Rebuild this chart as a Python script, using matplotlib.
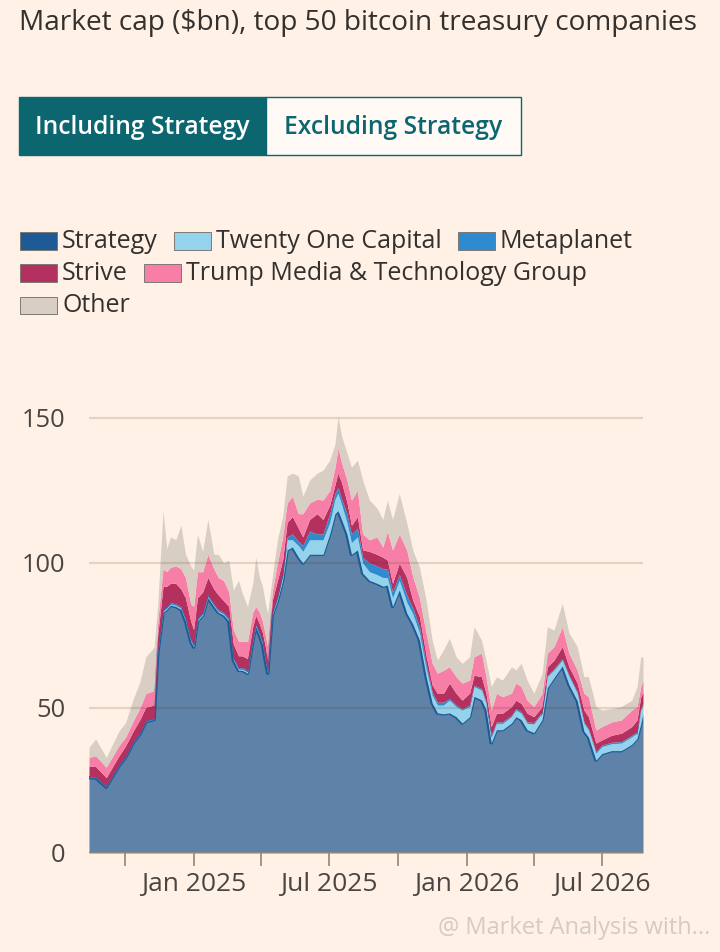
#MARKET CAP OF THE TOP 50 BITCOIN TREASURY COMPANIES
#Stacked area chart, values in $bn read off the FT graphic.

import matplotlib
matplotlib.use("Agg")
import matplotlib.pyplot as plt
from matplotlib.patches import Rectangle
import numpy as np
import pandas as pd

#SETUP THE DATA
dates = [
    "2024-08-14", "2024-08-23", "2024-09-06", "2024-09-23", "2024-10-02", "2024-10-12",
    "2024-10-21", "2024-10-29", "2024-11-09", "2024-11-14", "2024-11-21", "2024-11-26",
    "2024-12-01", "2024-12-08", "2024-12-15", "2024-12-21", "2024-12-28", "2025-01-01",
    "2025-01-06", "2025-01-13", "2025-01-20", "2025-01-28", "2025-02-03", "2025-02-10",
    "2025-02-17", "2025-02-23", "2025-03-02", "2025-03-07", "2025-03-14", "2025-03-21",
    "2025-03-25", "2025-03-30", "2025-04-03", "2025-04-07", "2025-04-10", "2025-04-16",
    "2025-04-23", "2025-04-30", "2025-05-06", "2025-05-13", "2025-05-21", "2025-05-27",
    "2025-06-05", "2025-06-15", "2025-06-23", "2025-07-02", "2025-07-09", "2025-07-13",
    "2025-07-18", "2025-07-25", "2025-07-31", "2025-08-08", "2025-08-15", "2025-08-24",
    "2025-09-03", "2025-09-11", "2025-09-17", "2025-09-24", "2025-10-03", "2025-10-13",
    "2025-10-21", "2025-10-30", "2025-11-08", "2025-11-16", "2025-11-23", "2025-12-01",
    "2025-12-09", "2025-12-18", "2025-12-26", "2026-01-05", "2026-01-11", "2026-01-21",
    "2026-01-27", "2026-02-03", "2026-02-10", "2026-02-18", "2026-03-02", "2026-03-08",
    "2026-03-15", "2026-03-23", "2026-04-01", "2026-04-12", "2026-04-19", "2026-04-28",
    "2026-05-09", "2026-05-18", "2026-05-29", "2026-06-07", "2026-06-13", "2026-06-23",
    "2026-07-01", "2026-07-14", "2026-07-27", "2026-08-10", "2026-08-17", "2026-08-22",
    "2026-08-25",
]

strategy = [
    26.0, 25.9, 22.7, 30.0, 33.0, 38.0, 41.0, 45.3, 46.0, 69.0, 83.0, 84.0,
    85.5, 85.0, 84.0, 80.0, 73.0, 71.0, 80.0, 82.0, 88.0, 85.0, 83.0, 82.0,
    80.0, 66.5, 63.0, 63.0, 62.0, 73.0, 78.0, 75.0, 72.0, 66.0, 62.0, 82.0,
    87.0, 94.0, 104.5, 105.5, 102.0, 100.0, 103.0, 103.0, 103.0, 110.0, 117.0, 118.0,
    114.8, 110.0, 103.0, 104.5, 96.5, 94.0, 93.0, 92.0, 92.4, 85.0, 90.7, 82.7,
    79.0, 73.4, 60.7, 51.7, 48.3, 48.0, 48.3, 47.0, 44.8, 47.0, 54.0, 52.8,
    49.4, 38.0, 42.5, 42.5, 44.8, 47.0, 46.0, 42.5, 41.5, 46.0, 57.0, 60.5,
    64.5, 58.0, 52.5, 42.0, 40.0, 32.0, 34.3, 35.3, 35.3, 37.5, 39.5, 44.5,
    48.0,
]

twenty_one = [
    0.0, 0.0, 0.0, 0.0, 0.0, 0.0, 0.0, 0.0, 0.0, 0.5, 0.5, 0.5,
    0.5, 0.5, 0.5, 0.5, 0.5, 0.5, 0.5, 0.5, 0.5, 0.5, 0.5, 0.5,
    0.5, 0.5, 0.5, 0.5, 0.5, 0.5, 0.5, 0.5, 0.5, 0.5, 0.5, 0.5,
    0.8, 1.5, 3.5, 2.5, 4.0, 4.0, 5.0, 5.0, 5.0, 4.0, 5.0, 6.0,
    5.2, 4.0, 4.0, 4.5, 3.5, 3.0, 3.0, 3.0, 2.6, 3.0, 3.3, 3.8,
    3.5, 2.6, 2.8, 2.8, 2.7, 3.0, 4.4, 3.5, 4.5, 3.5, 3.4, 3.4,
    2.2, 2.1, 2.2, 2.2, 2.2, 2.3, 2.2, 2.2, 3.0, 2.2, 3.8, 2.6,
    2.0, 2.8, 2.6, 2.7, 2.4, 2.4, 2.4, 2.4, 2.6, 2.6, 1.8, 4.8,
    3.0,
]

metaplanet = [
    0.4, 0.4, 0.4, 0.4, 0.4, 0.4, 0.4, 0.4, 0.4, 0.4, 0.4, 0.4,
    0.4, 0.4, 0.4, 0.4, 0.4, 0.4, 0.4, 0.4, 0.4, 0.4, 0.4, 0.4,
    0.4, 0.4, 0.4, 0.4, 0.4, 0.4, 0.4, 0.4, 0.4, 0.4, 0.4, 0.4,
    0.6, 0.8, 1.0, 2.0, 1.5, 2.0, 3.0, 2.0, 2.0, 3.0, 2.0, 2.0,
    2.0, 3.0, 3.0, 3.0, 2.0, 3.0, 3.0, 3.0, 3.0, 2.0, 2.0, 2.5,
    2.0, 2.0, 1.5, 1.0, 1.0, 1.0, 0.5, 0.5, 0.5, 0.5, 0.5, 0.5,
    0.5, 0.5, 0.5, 0.5, 0.5, 0.5, 0.5, 0.5, 0.5, 0.5, 0.5, 0.5,
    0.5, 0.5, 0.5, 0.5, 0.5, 0.5, 0.5, 0.5, 0.5, 0.5, 0.5, 0.5,
    0.5,
]

strive = [
    3.6, 3.5, 2.9, 3.1, 3.6, 3.6, 4.6, 4.6, 4.6, 5.1, 8.1, 7.1,
    6.6, 7.1, 6.1, 7.1, 6.1, 5.1, 7.1, 7.1, 6.1, 5.1, 5.1, 4.1,
    4.1, 4.6, 4.1, 4.1, 4.1, 4.1, 3.1, 3.1, 3.1, 4.1, 3.1, 4.1,
    5.6, 4.7, 5.0, 6.0, 4.5, 3.0, 4.0, 7.0, 5.0, 3.0, 3.0, 5.0,
    5.6, 4.0, 3.0, 4.0, 2.5, 4.0, 4.0, 4.0, 3.0, 3.0, 4.0, 6.0,
    2.7, 3.5, 3.0, 2.5, 3.0, 3.0, 5.4, 4.1, 2.9, 4.1, 3.4, 4.1,
    3.0, 3.0, 3.0, 3.0, 3.0, 2.9, 2.9, 3.0, 2.0, 1.8, 2.9, 2.9,
    4.2, 2.9, 3.0, 4.1, 4.1, 3.0, 1.8, 2.4, 2.9, 3.0, 4.1, 4.1,
    4.0,
]

trump_media = [
    3.0, 3.7, 3.6, 3.5, 3.0, 3.5, 4.0, 4.7, 5.0, 5.0, 6.0, 5.0,
    5.5, 6.0, 7.0, 7.0, 6.0, 8.0, 9.0, 7.0, 8.0, 7.0, 6.0, 7.0,
    5.0, 5.0, 5.0, 5.0, 6.0, 5.0, 3.0, 4.0, 4.0, 4.0, 5.0, 3.0,
    6.0, 8.0, 6.7, 7.0, 5.0, 8.0, 5.7, 5.0, 6.7, 5.0, 6.0, 8.6,
    6.9, 7.6, 8.7, 9.0, 5.5, 4.0, 6.0, 3.5, 10.0, 11.5, 10.0, 9.5,
    8.1, 6.5, 7.8, 7.5, 7.0, 8.0, 5.6, 5.7, 5.9, 4.5, 6.4, 8.1,
    5.7, 5.7, 6.9, 5.7, 4.6, 5.9, 5.8, 4.5, 3.5, 4.6, 4.7, 4.7,
    6.8, 4.7, 4.5, 5.8, 6.9, 4.5, 4.6, 4.6, 4.6, 5.7, 4.6, 3.5,
    4.0,
]

other = [
    3.5, 5.8, 3.4, 5.0, 5.0, 7.5, 9.0, 12.6, 15.0, 6.0, 20.0, 8.0,
    10.5, 9.0, 15.0, 8.0, 13.0, 12.6, 13.0, 7.0, 12.0, 5.0, 8.0, 6.0,
    11.0, 13.7, 21.0, 16.6, 12.0, 10.0, 17.0, 12.0, 12.0, 11.0, 11.7, 5.0,
    8.0, 7.0, 9.3, 8.0, 13.0, 6.0, 7.9, 9.0, 10.3, 10.5, 8.0, 10.9,
    9.1, 9.4, 11.3, 10.5, 18.6, 13.7, 10.0, 9.5, 10.7, 10.5, 14.0, 9.3,
    9.2, 10.6, 11.2, 7.9, 4.5, 7.0, 9.8, 6.9, 6.8, 8.1, 10.3, 4.5,
    5.7, 8.1, 5.7, 5.7, 9.1, 4.5, 8.0, 6.9, 4.6, 6.8, 9.1, 5.7,
    8.1, 7.0, 8.1, 5.7, 6.9, 8.1, 5.7, 4.6, 4.6, 3.4, 6.9, 10.3,
    8.0,
]

series_names = ["Strategy", "Twenty One Capital", "Metaplanet",
                "Strive", "Trump Media & Technology Group", "Other"]
series_colors = ["#1e5a96", "#95d3ec", "#2e8bd0", "#b3305f", "#f77fa7", "#d9cec4"]
legend_rows = [[0, 1, 2], [3, 4], [5]]

tick_dates = ["2024-10-01", "2025-01-01", "2025-04-01", "2025-07-01",
              "2025-10-01", "2026-01-01", "2026-04-01", "2026-07-01"]
tick_labels = ["", "Jan 2025", "", "Jul 2025", "", "Jan 2026", "", "Jul 2026"]
y_ticks = [0, 50, 100, 150]

title = "Market cap ($bn), top 50 bitcoin treasury companies"
buttons = ["Including Strategy", "Excluding Strategy"]
credit = "@ Market Analysis with..."

#STYLE
BG = "#fff1e5"
TEAL = "#0b6670"
TEXT = "#33302e"
plt.rcParams["font.family"] = ["Open Sans", "DejaVu Sans"]

W, H = 720, 952
def fx(x):
    return x / W
def fy(y):
    return 1 - y / H

fig = plt.figure(figsize=(W / 100, H / 100), dpi=100, facecolor=BG)

#MAKING THE CHART
ax = fig.add_axes([fx(89), fy(853), fx(643) - fx(89), fy(400) - fy(853)])
ax.set_facecolor("none")

x = pd.to_datetime(dates)
layers = np.vstack([strategy, twenty_one, metaplanet, strive, trump_media, other])
tops = np.cumsum(layers, axis=0)

ax.fill_between(x, 0, tops[0], color="#5f82a8", lw=0, zorder=1)
ax.plot(x, tops[0], color=series_colors[0], lw=2.5, zorder=2)
for i in range(1, len(layers)):
    ax.fill_between(x, tops[i - 1], tops[i], color=series_colors[i], lw=0, zorder=3)

for v in y_ticks[1:]:
    ax.axhline(v, color="#5a3a1a", alpha=0.16, lw=1.6, zorder=5)
ax.axhline(0, color="#8f857c", lw=1.5, zorder=6)

ax.set_xlim(pd.Timestamp("2024-08-14"), pd.Timestamp("2026-08-25"))
ax.set_ylim(0, 156.2)
for s in ax.spines.values():
    s.set_visible(False)

ax.set_yticks(y_ticks)
ax.tick_params(axis="y", length=0, pad=17, labelsize=18.3, labelcolor="#4a4542")
ax.set_xticks(pd.to_datetime(tick_dates))
ax.set_xticklabels(tick_labels)
ax.tick_params(axis="x", length=9.5, width=1.2, color="#8f857c", pad=4,
               labelsize=19, labelcolor="#4a4542")

#TITLE AND TOGGLE BUTTONS
fig.text(fx(19), fy(23), title, va="center", ha="left", fontsize=20.2, color=TEXT)

fig.add_artist(Rectangle((fx(19), fy(155)), fx(266) - fx(19), fy(97) - fy(155),
                         transform=fig.transFigure, facecolor=TEAL, edgecolor=TEAL, lw=1))
fig.add_artist(Rectangle((fx(266), fy(155)), fx(521) - fx(266), fy(97) - fy(155),
                         transform=fig.transFigure, facecolor="#fffaf5", edgecolor=TEAL, lw=1))
fig.text(fx(142.5), fy(127), buttons[0], ha="center", va="center",
         fontsize=17.7, color="white", fontweight="semibold")
fig.text(fx(393.5), fy(127), buttons[1], ha="center", va="center",
         fontsize=17.7, color=TEAL, fontweight="semibold")

#LEGEND (flows left to right, measured with the renderer)
renderer = fig.canvas.get_renderer()
row_y = [241, 273, 306]
for r, row in enumerate(legend_rows):
    xpos = 20
    y = row_y[r]
    for idx in row:
        fig.add_artist(Rectangle((fx(xpos), fy(y + 8.5)), fx(37), 17 / H,
                                 transform=fig.transFigure, facecolor=series_colors[idx],
                                 edgecolor="#7d7873", lw=0.7))
        t = fig.text(fx(xpos + 42), fy(y), series_names[idx], va="center", ha="left",
                     fontsize=18, color=TEXT)
        xpos = t.get_window_extent(renderer).x1 + 16

fig.text(fx(710), fy(928), credit, ha="right", va="center", fontsize=17, color="#d3cbc4")

fig.savefig("out.png", dpi=100, facecolor=BG)
